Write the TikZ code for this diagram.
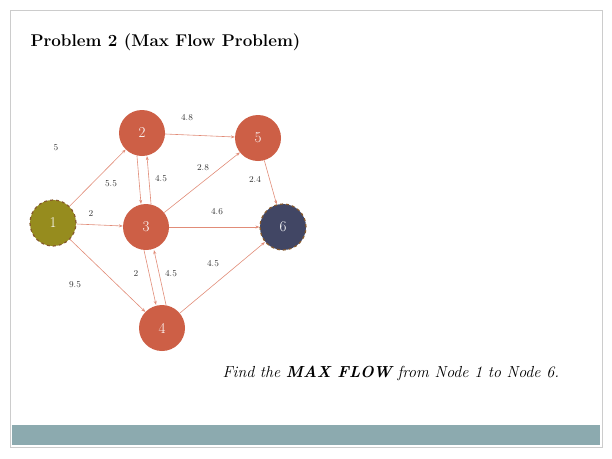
\documentclass[tikz,border=0pt]{standalone}
\usetikzlibrary{arrows.meta}
\definecolor{nodeor}{RGB}{205,95,70}
\definecolor{olive1}{RGB}{150,140,30}
\definecolor{navy6}{RGB}{65,70,100}
\definecolor{edgec}{RGB}{225,140,120}
\definecolor{barc}{RGB}{140,170,175}
\begin{document}
\begin{tikzpicture}[x=1pt,y=-1pt,
  vert/.style={circle,fill=nodeor,minimum size=46pt,inner sep=0pt,text=white,font=\fontsize{15}{16}\selectfont},
  dashv/.style={vert,draw=brown!70!black,dashed,line width=1.2pt},
  edge/.style={draw=edgec,line width=0.6pt,-{Stealth[length=4pt,width=3pt]}},
  lab/.style={font=\fontsize{9}{10}\selectfont,text=black!80}]
\useasboundingbox (0,0) rectangle (612,458);
\draw[gray!40] (10,10) rectangle (602,447);
\fill[barc] (12,425) rectangle (600,445);
\node[anchor=west,font=\bfseries\fontsize{17}{20}\selectfont] (title) at (27,42) {Problem 2 (Max Flow Problem)};
\node[dashv,fill=olive1] (n1) at (53,223) {1};
\node[vert] (n2) at (142,133) {2};
\node[vert] (n5) at (258,138) {5};
\node[vert] (n3) at (146,227) {3};
\node[dashv,fill=navy6] (n6) at (283,227) {6};
\node[vert] (n4) at (162,328) {4};
\draw[edge] (n1) -- (n2);
\draw[edge] (n1) -- (n3);
\draw[edge] (n1) -- (n4);
\draw[edge] (n2) -- (n5);
\draw[edge] ([xshift=-5pt]n2.south) -- ([xshift=-5pt]n3.north);
\draw[edge] ([xshift=5pt]n3.north) -- ([xshift=5pt]n2.south);
\draw[edge] (n3) -- (n5);
\draw[edge] (n3) -- (n6);
\draw[edge] (n5) -- (n6);
\draw[edge] ([xshift=-2pt]n3.south) -- ([xshift=-6pt]n4.north);
\draw[edge] ([xshift=4pt]n4.north) -- ([xshift=8pt]n3.south);
\draw[edge] (n4) -- (n6);
\node[lab] (l12) at (56,148) {5};
\node[lab] (l25) at (187,118) {4.8};
\node[lab] (l23) at (111,184) {5.5};
\node[lab] (l32) at (161,179) {4.5};
\node[lab] (l35) at (203,168) {2.8};
\node[lab] (l56) at (255,179) {2.4};
\node[lab] (l13) at (91,213) {2};
\node[lab] (l36) at (217,212) {4.6};
\node[lab] (l34) at (136,273) {2};
\node[lab] (l43) at (171,274) {4.5};
\node[lab] (l46) at (213,264) {4.5};
\node[lab] (l14) at (75,285) {9.5};
\node[anchor=west,font=\itshape\fontsize{16}{18}\selectfont] (task) at (219,373) {Find the \textbf{MAX FLOW} from Node 1 to Node 6.};
\end{tikzpicture}
\end{document}
